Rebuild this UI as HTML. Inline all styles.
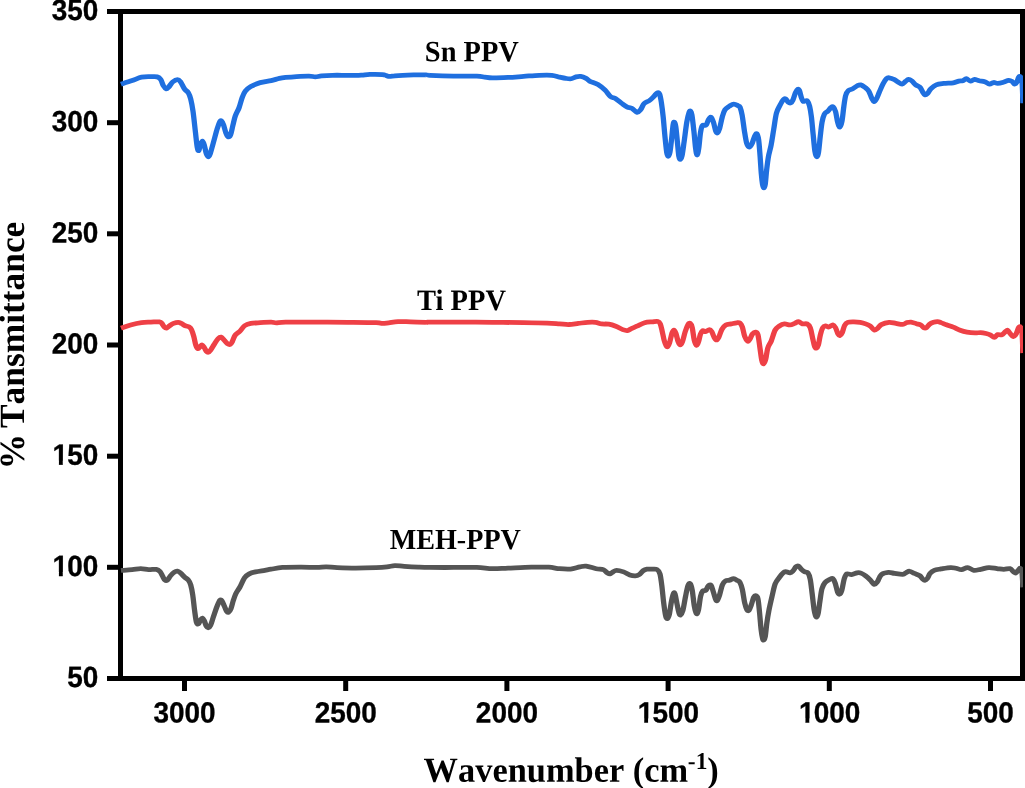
<!DOCTYPE html>
<html><head><meta charset="utf-8"><title>FTIR spectra</title>
<style>
html,body{margin:0;padding:0;background:#fff;}
body{width:1025px;height:788px;overflow:hidden;}
svg{display:block;}
.tk{font-family:"Liberation Sans",Arial,sans-serif;font-weight:bold;font-size:29.3px;fill:#000;stroke:#000;stroke-width:0.35px;}
.lb{font-family:"Liberation Serif","Times New Roman",serif;font-weight:bold;font-size:29px;fill:#000;}
.ax{font-family:"Liberation Serif","Times New Roman",serif;font-weight:bold;font-size:34.7px;fill:#000;font-kerning:none;}
</style></head><body>
<svg width="1025" height="788" viewBox="0 0 1025 788">
<rect width="1025" height="788" fill="#fff"/>
<defs><clipPath id="one"><rect x="-2" y="-30" width="90" height="26.01"/><rect x="7.54" y="-4" width="4.02" height="6"/><rect x="17.15" y="-4" width="72" height="6"/></clipPath><clipPath id="plotclip"><rect x="118" y="9" width="905" height="672"/></clipPath></defs>
<rect x="120.5" y="11.5" width="902" height="667" fill="none" stroke="#000" stroke-width="5"/>
<rect x="107" y="676.0" width="12" height="5" fill="#000"/>
<g transform="translate(67.27,687.10) scale(0.9522,1) rotate(0.03)"><text x="0" y="0" class="tk">50</text></g>
<rect x="107" y="564.8" width="12" height="5" fill="#000"/>
<g transform="translate(51.75,575.93) scale(0.9522,1) rotate(0.03)"><text x="0.70 16.30" y="0" class="tk" clip-path="url(#one)">100</text></g>
<rect x="107" y="453.7" width="12" height="5" fill="#000"/>
<g transform="translate(51.75,464.77) scale(0.9522,1) rotate(0.03)"><text x="0.70 16.30" y="0" class="tk" clip-path="url(#one)">150</text></g>
<rect x="107" y="342.5" width="12" height="5" fill="#000"/>
<g transform="translate(51.75,353.60) scale(0.9522,1) rotate(0.03)"><text x="0" y="0" class="tk">200</text></g>
<rect x="107" y="231.3" width="12" height="5" fill="#000"/>
<g transform="translate(51.75,242.43) scale(0.9522,1) rotate(0.03)"><text x="0" y="0" class="tk">250</text></g>
<rect x="107" y="120.2" width="12" height="5" fill="#000"/>
<g transform="translate(51.75,131.27) scale(0.9522,1) rotate(0.03)"><text x="0" y="0" class="tk">300</text></g>
<rect x="107" y="9.0" width="12" height="5" fill="#000"/>
<g transform="translate(51.75,20.10) scale(0.9522,1) rotate(0.03)"><text x="0" y="0" class="tk">350</text></g>
<rect x="182.0" y="680" width="5" height="11" fill="#000"/>
<g transform="translate(153.47,722.50) scale(0.9522,1) rotate(0.03)"><text x="0" y="0" class="tk">3000</text></g>
<rect x="343.2" y="680" width="5" height="11" fill="#000"/>
<g transform="translate(314.67,722.50) scale(0.9522,1) rotate(0.03)"><text x="0" y="0" class="tk">2500</text></g>
<rect x="504.4" y="680" width="5" height="11" fill="#000"/>
<g transform="translate(475.87,722.50) scale(0.9522,1) rotate(0.03)"><text x="0" y="0" class="tk">2000</text></g>
<rect x="665.6" y="680" width="5" height="11" fill="#000"/>
<g transform="translate(637.07,722.50) scale(0.9522,1) rotate(0.03)"><text x="0.70 16.30" y="0" class="tk" clip-path="url(#one)">1500</text></g>
<rect x="826.8" y="680" width="5" height="11" fill="#000"/>
<g transform="translate(798.27,722.50) scale(0.9522,1) rotate(0.03)"><text x="0.70 16.30" y="0" class="tk" clip-path="url(#one)">1000</text></g>
<rect x="988.0" y="680" width="5" height="11" fill="#000"/>
<g transform="translate(967.23,722.50) scale(0.9522,1) rotate(0.03)"><text x="0" y="0" class="tk">500</text></g>
<g clip-path="url(#plotclip)"><g transform="scale(1,0.9)">
<path d="M120.93 633.83C122.81 633.68 128.87 633.28 132.17 632.96C135.48 632.64 138.03 631.92 140.76 631.92C143.49 631.92 145.96 632.84 148.56 632.96C151.16 633.08 154.47 632.27 156.37 632.61C158.27 632.96 158.92 633.77 159.96 635.04C161.00 636.31 161.78 638.66 162.61 640.25C163.44 641.84 164.17 643.86 164.95 644.58C165.73 645.30 166.38 645.36 167.29 644.58C168.21 643.80 169.30 641.34 170.42 639.90C171.54 638.45 172.84 636.78 174.01 635.91C175.18 635.04 176.35 634.55 177.44 634.69C178.53 634.84 179.39 635.71 180.56 636.78C181.73 637.85 183.17 639.81 184.47 641.11C185.77 642.41 187.33 643.14 188.37 644.58C189.41 646.03 189.98 647.04 190.71 649.78C191.44 652.53 192.09 656.29 192.74 661.06C193.39 665.83 193.99 673.35 194.61 678.40C195.24 683.46 195.84 688.96 196.49 691.41C197.14 693.87 197.84 693.58 198.52 693.15C199.19 692.71 199.89 689.88 200.54 688.81C201.20 687.74 201.79 686.58 202.42 686.73C203.04 686.87 203.64 688.17 204.29 689.68C204.94 691.18 205.64 694.45 206.32 695.75C207.00 697.05 207.65 697.63 208.35 697.48C209.05 697.34 209.65 697.05 210.54 694.88C211.42 692.71 212.54 688.09 213.66 684.47C214.78 680.86 216.21 676.09 217.25 673.20C218.29 670.31 219.12 668.05 219.90 667.13C220.68 666.20 221.20 666.64 221.93 667.65C222.66 668.66 223.49 671.26 224.27 673.20C225.05 675.14 225.89 678.11 226.61 679.27C227.34 680.43 227.94 680.57 228.64 680.14C229.35 679.70 230.05 678.84 230.83 676.67C231.61 674.50 232.47 670.02 233.33 667.13C234.19 664.24 234.89 661.78 235.98 659.32C237.07 656.87 238.45 655.28 239.88 652.39C241.31 649.50 243.00 644.44 244.57 641.98C246.13 639.52 247.43 638.74 249.25 637.64C251.07 636.55 252.89 636.05 255.49 635.39C258.10 634.72 262.26 634.15 264.86 633.65C267.46 633.16 268.17 632.96 271.10 632.44C274.04 631.92 277.47 630.91 282.49 630.54C287.51 630.16 295.50 630.19 301.22 630.19C306.94 630.19 312.67 630.60 316.83 630.54C320.99 630.48 322.82 629.81 326.20 629.84C329.58 629.87 332.18 630.48 337.12 630.71C342.07 630.94 349.35 631.23 355.86 631.23C362.36 631.23 370.95 630.94 376.15 630.71C381.35 630.48 383.96 630.22 387.08 629.84C390.20 629.47 392.02 628.54 394.88 628.46C397.74 628.37 400.35 629.03 404.25 629.32C408.15 629.61 414.01 629.99 418.30 630.19C422.59 630.39 424.15 630.48 430.00 630.54C435.85 630.60 445.61 630.54 453.42 630.54C461.22 630.54 470.33 630.31 476.83 630.54C483.34 630.77 487.24 631.81 492.44 631.92C497.64 632.04 501.55 631.52 508.05 631.23C514.56 630.94 524.70 630.36 531.47 630.19C538.23 630.02 543.96 629.90 548.64 630.19C553.32 630.48 555.92 631.58 559.57 631.92C563.21 632.27 567.11 632.62 570.49 632.27C573.88 631.92 577.26 630.39 579.86 629.84C582.46 629.29 583.37 628.63 586.10 628.98C588.83 629.32 593.38 631.26 596.24 631.92C599.11 632.58 601.45 632.21 603.27 632.96C605.09 633.71 606.05 635.65 607.17 636.43C608.29 637.21 608.99 637.82 609.98 637.64C610.97 637.47 612.01 636.05 613.10 635.39C614.20 634.72 614.79 633.65 616.54 633.65C618.28 633.65 621.35 634.52 623.56 635.39C625.77 636.26 627.86 638.11 629.81 638.86C631.76 639.61 633.71 639.96 635.27 639.90C636.83 639.84 637.87 639.46 639.17 638.51C640.47 637.56 641.77 635.19 643.08 634.17C644.38 633.16 645.42 632.73 646.98 632.44C648.54 632.15 650.75 632.35 652.44 632.44C654.13 632.53 655.88 632.09 657.12 632.96C658.37 633.83 659.15 634.69 659.93 637.64C660.71 640.59 661.18 645.30 661.81 650.65C662.43 656.00 663.06 664.24 663.68 669.73C664.31 675.22 664.96 680.66 665.55 683.61C666.15 686.56 666.65 687.57 667.27 687.42C667.90 687.28 668.60 685.98 669.30 682.74C670.00 679.50 670.78 671.90 671.49 668.00C672.19 664.09 672.92 660.63 673.52 659.32C674.11 658.02 674.48 658.17 675.08 660.19C675.67 662.22 676.46 668.00 677.11 671.47C677.76 674.93 678.41 679.04 678.98 681.01C679.55 682.97 679.89 683.69 680.54 683.26C681.19 682.83 682.05 681.82 682.88 678.40C683.71 674.99 684.68 667.42 685.54 662.79C686.39 658.17 687.25 653.02 688.03 650.65C688.81 648.28 689.52 647.70 690.22 648.57C690.92 649.44 691.57 651.75 692.25 655.86C692.92 659.96 693.57 668.86 694.28 673.20C694.98 677.54 695.76 681.15 696.46 681.87C697.17 682.60 697.82 680.72 698.49 677.54C699.17 674.36 699.82 666.26 700.52 662.79C701.22 659.32 701.82 657.88 702.71 656.72C703.59 655.57 704.89 656.81 705.83 655.86C706.77 654.90 707.47 651.92 708.33 651.00C709.19 650.07 710.15 649.21 710.98 650.31C711.81 651.40 712.54 654.99 713.32 657.59C714.10 660.19 715.01 664.33 715.66 665.92C716.31 667.51 716.57 667.94 717.22 667.13C717.87 666.32 718.71 663.95 719.57 661.06C720.42 658.17 721.39 652.39 722.38 649.78C723.36 647.18 724.28 646.32 725.50 645.45C726.72 644.58 728.36 645.02 729.71 644.58C731.07 644.15 732.31 642.76 733.62 642.85C734.92 642.93 736.45 644.38 737.52 645.10C738.58 645.82 739.20 645.54 740.00 647.18C740.80 648.83 741.56 651.23 742.34 654.99C743.12 658.75 743.90 665.97 744.68 669.73C745.46 673.49 746.30 676.15 747.02 677.54C747.75 678.92 748.35 678.92 749.05 678.06C749.76 677.19 750.46 674.73 751.24 672.33C752.02 669.93 752.96 665.40 753.74 663.66C754.52 661.93 755.22 661.64 755.92 661.93C756.63 662.22 757.35 662.36 757.95 665.40C758.55 668.43 758.99 674.50 759.51 680.14C760.03 685.78 760.55 694.30 761.07 699.22C761.59 704.13 762.17 707.66 762.64 709.62C763.10 711.59 763.44 711.45 763.88 711.01C764.33 710.58 764.79 710.15 765.29 707.02C765.78 703.90 766.25 697.05 766.85 692.28C767.45 687.51 768.02 683.32 768.88 678.40C769.74 673.49 770.96 667.71 772.00 662.79C773.04 657.88 773.95 652.39 775.12 648.92C776.29 645.45 777.46 644.23 779.03 641.98C780.59 639.72 782.67 636.31 784.49 635.39C786.31 634.46 788.52 636.63 789.95 636.43C791.38 636.23 792.09 635.27 793.08 634.17C794.06 633.08 794.97 630.71 795.89 629.84C796.80 628.97 797.58 628.45 798.54 628.97C799.50 629.49 800.62 631.89 801.66 632.96C802.70 634.03 803.74 634.81 804.78 635.39C805.82 635.97 806.99 635.04 807.91 636.43C808.82 637.82 809.54 639.90 810.25 643.71C810.95 647.53 811.47 653.69 812.12 659.32C812.77 664.96 813.47 673.20 814.15 677.54C814.83 681.87 815.53 684.62 816.18 685.34C816.83 686.06 817.43 684.76 818.05 681.87C818.68 678.98 819.27 672.62 819.93 668.00C820.58 663.37 821.10 657.59 821.95 654.12C822.81 650.65 823.78 648.92 825.08 647.18C826.38 645.45 828.46 644.44 829.76 643.71C831.06 642.99 831.97 642.12 832.88 642.85C833.79 643.57 834.44 645.59 835.22 648.05C836.00 650.51 836.84 655.57 837.56 657.59C838.29 659.61 838.89 660.48 839.59 660.19C840.30 659.90 841.00 658.75 841.78 655.86C842.56 652.96 843.42 645.88 844.28 642.85C845.14 639.81 845.71 638.37 846.93 637.64C848.15 636.92 849.92 638.71 851.61 638.51C853.31 638.31 855.52 636.72 857.08 636.43C858.64 636.14 859.55 636.20 860.98 636.78C862.41 637.35 864.10 638.60 865.66 639.90C867.22 641.20 868.92 643.02 870.35 644.58C871.78 646.14 873.08 648.98 874.25 649.26C875.42 649.55 876.20 648.11 877.37 646.32C878.54 644.52 879.43 640.24 881.27 638.51C883.11 636.78 886.20 636.16 888.41 635.94C890.63 635.71 892.17 636.77 894.56 637.15C896.95 637.53 900.82 638.37 902.76 638.21C904.69 638.06 905.03 636.82 906.17 636.24C907.31 635.66 908.22 634.57 909.59 634.72C910.95 634.88 912.66 636.32 914.37 637.15C916.07 637.99 918.47 638.72 919.83 639.73C921.20 640.74 921.72 642.39 922.56 643.22C923.41 644.06 924.09 644.82 924.89 644.74C925.68 644.66 926.48 644.03 927.34 642.77C928.21 641.50 928.94 638.67 930.08 637.15C931.21 635.63 932.35 634.50 934.17 633.66C935.99 632.83 938.27 632.65 941.00 632.14C943.74 631.64 948.06 630.75 950.56 630.63C953.07 630.50 954.21 631.01 956.03 631.38C957.85 631.76 959.56 633.03 961.49 632.90C963.43 632.78 965.59 630.50 967.64 630.63C969.69 630.75 971.62 633.33 973.79 633.66C975.95 633.99 978.11 633.10 980.62 632.60C983.12 632.09 986.08 630.78 988.81 630.63C991.54 630.47 994.50 631.36 997.01 631.69C999.51 632.02 1001.67 632.57 1003.84 632.60C1006.00 632.62 1008.39 631.41 1009.98 631.84C1011.58 632.27 1012.42 634.37 1013.40 635.18C1014.38 635.99 1015.06 636.95 1015.86 636.70C1016.65 636.44 1017.45 634.55 1018.18 633.66C1018.91 632.78 1019.59 631.01 1020.23 631.38C1020.86 631.76 1021.55 632.40 1022.00 635.94C1022.46 639.48 1022.80 649.85 1022.96 652.63" fill="none" stroke="#555555" stroke-width="5.3" stroke-linejoin="round" stroke-linecap="butt"/>
<path d="M120.93 364.55C122.55 363.98 127.18 362.10 130.61 361.09C134.04 360.07 138.16 359.00 141.54 358.48C144.92 357.96 147.91 358.11 150.90 357.96C153.90 357.82 157.67 357.38 159.49 357.62C161.31 357.85 161.05 358.43 161.83 359.35C162.61 360.28 163.39 362.30 164.17 363.17C164.95 364.03 165.60 364.76 166.51 364.55C167.42 364.35 168.47 362.82 169.64 361.95C170.81 361.09 172.11 359.99 173.54 359.35C174.97 358.71 176.92 358.14 178.22 358.14C179.52 358.14 180.17 358.71 181.34 359.35C182.51 359.99 183.95 361.32 185.25 361.95C186.55 362.59 188.11 362.44 189.15 363.17C190.19 363.89 190.71 364.47 191.49 366.29C192.27 368.11 193.10 371.20 193.83 374.09C194.56 376.98 195.16 381.41 195.86 383.63C196.56 385.86 197.34 387.22 198.05 387.45C198.75 387.68 199.40 385.71 200.08 385.02C200.75 384.33 201.40 383.08 202.11 383.29C202.81 383.49 203.59 385.08 204.29 386.24C204.99 387.39 205.64 389.36 206.32 390.22C207.00 391.09 207.65 391.61 208.35 391.44C209.05 391.27 209.57 390.63 210.54 389.18C211.50 387.74 212.88 384.91 214.13 382.77C215.37 380.63 216.86 377.71 218.03 376.35C219.20 374.99 220.11 374.32 221.15 374.61C222.19 374.90 223.23 376.87 224.27 378.08C225.31 379.30 226.41 381.12 227.39 381.90C228.38 382.68 229.37 383.20 230.20 382.77C231.04 382.33 231.56 381.03 232.39 379.30C233.22 377.56 233.95 374.24 235.20 372.36C236.45 370.48 238.32 369.76 239.88 368.02C241.44 366.29 242.74 363.40 244.57 361.95C246.39 360.51 248.21 359.93 250.81 359.35C253.41 358.77 256.79 358.71 260.18 358.48C263.56 358.25 268.43 357.93 271.10 357.96C273.78 357.99 273.83 358.66 276.24 358.66C278.66 358.66 278.85 358.08 285.61 357.96C292.37 357.85 306.42 357.93 316.83 357.96C327.24 357.99 338.17 358.05 348.05 358.14C357.94 358.22 370.43 358.28 376.15 358.48C381.87 358.69 380.31 359.32 382.39 359.35C384.48 359.38 386.04 359.00 388.64 358.66C391.24 358.31 394.36 357.44 398.00 357.27C401.65 357.10 405.81 357.47 410.49 357.62C415.18 357.76 422.85 358.08 426.10 358.14C429.35 358.19 424.15 358.02 430.00 357.96C435.85 357.91 450.81 357.76 461.22 357.79C471.63 357.82 482.03 358.02 492.44 358.14C502.85 358.25 514.56 358.34 523.66 358.48C532.77 358.63 541.09 358.77 547.08 359.00C553.06 359.23 555.92 359.61 559.57 359.87C563.21 360.13 565.81 360.65 568.93 360.56C572.05 360.48 575.18 359.76 578.30 359.35C581.42 358.95 584.80 358.34 587.66 358.14C590.53 357.93 593.12 357.84 595.46 358.13C597.80 358.42 599.50 359.52 601.71 359.87C603.92 360.21 606.39 359.78 608.73 360.21C611.07 360.65 613.42 361.46 615.76 362.47C618.10 363.48 620.83 365.47 622.78 366.28C624.73 367.09 626.03 367.53 627.46 367.32C628.90 367.12 629.81 365.88 631.37 365.07C632.93 364.26 634.62 363.54 636.83 362.47C639.04 361.40 642.03 359.46 644.64 358.65C647.24 357.84 650.23 357.84 652.44 357.61C654.65 357.38 656.60 356.89 657.91 357.26C659.21 357.64 659.54 358.13 660.25 359.87C660.95 361.60 661.47 364.64 662.12 367.67C662.77 370.71 663.47 375.33 664.15 378.08C664.83 380.82 665.58 382.99 666.18 384.15C666.78 385.30 667.17 385.59 667.74 385.02C668.31 384.44 668.91 383.14 669.61 380.68C670.32 378.22 671.23 372.59 671.95 370.27C672.68 367.96 673.33 366.80 673.98 366.80C674.63 366.80 675.15 368.10 675.86 370.27C676.56 372.44 677.47 377.64 678.20 379.81C678.93 381.98 679.53 383.28 680.23 383.28C680.93 383.28 681.58 382.27 682.41 379.81C683.25 377.36 684.29 371.72 685.22 368.54C686.16 365.36 687.20 362.27 688.03 360.73C688.87 359.20 689.52 358.77 690.22 359.35C690.92 359.92 691.57 361.08 692.25 364.20C692.92 367.32 693.57 374.84 694.28 378.08C694.98 381.32 695.76 383.34 696.46 383.63C697.17 383.92 697.82 381.89 698.49 379.81C699.17 377.73 699.82 373.22 700.52 371.14C701.22 369.06 701.87 367.76 702.71 367.32C703.54 366.89 704.40 368.71 705.52 368.54C706.64 368.36 708.38 366.28 709.42 366.28C710.46 366.28 710.98 367.15 711.76 368.54C712.54 369.93 713.32 373.08 714.10 374.61C714.88 376.14 715.66 377.73 716.44 377.73C717.22 377.73 717.87 376.57 718.79 374.61C719.70 372.64 720.74 368.19 721.91 365.94C723.08 363.68 724.25 362.09 725.81 361.08C727.37 360.07 729.45 360.27 731.27 359.87C733.10 359.46 735.28 358.80 736.74 358.65C738.19 358.51 739.07 358.22 740.00 359.00C740.93 359.78 741.56 360.88 742.34 363.33C743.12 365.79 743.82 371.14 744.68 373.74C745.54 376.34 746.66 378.37 747.49 378.95C748.33 379.52 748.85 378.51 749.68 377.21C750.51 375.91 751.50 372.50 752.49 371.14C753.48 369.78 754.70 368.91 755.61 369.06C756.52 369.20 757.22 369.06 757.95 372.01C758.68 374.96 759.33 381.98 759.98 386.75C760.63 391.52 761.23 397.74 761.85 400.63C762.48 403.52 763.08 404.38 763.73 404.10C764.38 403.81 765.08 401.78 765.76 398.89C766.43 396.00 766.88 390.07 767.79 386.75C768.70 383.43 770.00 382.27 771.22 378.95C772.44 375.62 773.82 369.55 775.12 366.80C776.42 364.06 777.46 363.62 779.03 362.47C780.59 361.31 782.67 360.10 784.49 359.87C786.31 359.63 788.26 361.17 789.95 361.08C791.64 360.99 793.21 359.98 794.64 359.35C796.07 358.71 797.24 357.18 798.54 357.26C799.84 357.35 801.01 359.43 802.44 359.87C803.87 360.30 805.82 359.14 807.12 359.87C808.43 360.59 809.34 361.60 810.25 364.20C811.16 366.80 811.86 372.01 812.59 375.48C813.32 378.95 813.97 383.14 814.62 385.02C815.27 386.89 815.87 387.04 816.49 386.75C817.12 386.46 817.71 385.74 818.36 383.28C819.01 380.82 819.66 375.19 820.39 372.01C821.12 368.83 821.88 365.85 822.73 364.20C823.59 362.55 824.50 362.27 825.54 362.12C826.59 361.98 827.76 363.51 828.98 363.33C830.20 363.16 831.79 360.94 832.88 361.08C833.97 361.22 834.68 362.53 835.54 364.20C836.39 365.88 837.30 369.69 838.03 371.14C838.76 372.59 839.20 373.16 839.91 372.87C840.61 372.59 841.47 371.28 842.25 369.41C843.03 367.53 843.68 363.48 844.59 361.60C845.50 359.72 846.15 358.80 847.71 358.13C849.27 357.47 851.87 357.61 853.96 357.61C856.04 357.61 858.25 357.76 860.20 358.13C862.15 358.51 863.97 359.14 865.66 359.87C867.35 360.59 868.92 361.31 870.35 362.47C871.78 363.62 873.08 366.37 874.25 366.80C875.42 367.24 876.20 366.08 877.37 365.07C878.54 364.06 879.32 361.89 881.27 360.73C883.23 359.58 886.66 358.36 889.10 358.13C891.54 357.90 893.65 358.97 895.93 359.35C898.20 359.73 900.94 360.56 902.76 360.41C904.58 360.26 905.49 358.87 906.85 358.44C908.22 358.01 909.36 357.63 910.95 357.83C912.55 358.03 914.78 359.09 916.42 359.65C918.06 360.21 919.54 360.41 920.79 361.17C922.04 361.93 922.95 363.75 923.93 364.20C924.91 364.66 925.75 364.53 926.66 363.90C927.57 363.27 928.25 361.37 929.39 360.41C930.53 359.45 932.12 358.64 933.49 358.13C934.86 357.63 936.34 357.32 937.59 357.37C938.84 357.42 939.52 357.85 941.00 358.44C942.48 359.02 944.42 360.03 946.47 360.86C948.52 361.70 951.02 362.43 953.30 363.44C955.57 364.46 957.85 366.00 960.13 366.93C962.40 367.87 964.45 368.55 966.96 369.06C969.46 369.57 972.88 369.89 975.15 369.97C977.43 370.05 978.79 369.41 980.62 369.51C982.44 369.62 984.49 370.15 986.08 370.58C987.67 371.01 988.81 371.39 990.18 372.09C991.54 372.80 993.02 374.88 994.27 374.83C995.53 374.78 996.44 372.25 997.69 371.79C998.94 371.34 1000.54 372.60 1001.79 372.09C1003.04 371.59 1004.22 369.62 1005.20 368.76C1006.18 367.90 1006.86 366.68 1007.66 366.93C1008.46 367.19 1009.03 369.08 1009.98 370.27C1010.94 371.46 1012.37 373.94 1013.40 374.07C1014.42 374.19 1015.26 372.68 1016.13 371.03C1016.99 369.39 1017.86 365.47 1018.59 364.20C1019.32 362.94 1019.93 362.68 1020.50 363.44C1021.07 364.20 1021.59 363.95 1022.00 368.76C1022.41 373.56 1022.80 388.36 1022.96 392.28" fill="none" stroke="#ee4046" stroke-width="5.3" stroke-linejoin="round" stroke-linecap="butt"/>
<path d="M120.93 93.55C122.81 92.89 128.74 90.86 132.17 89.56C135.61 88.26 138.42 86.47 141.54 85.75C144.66 85.02 148.30 85.28 150.90 85.23C153.51 85.17 155.51 84.88 157.15 85.40C158.79 85.92 159.70 86.70 160.74 88.35C161.78 90.00 162.48 93.55 163.39 95.29C164.30 97.02 165.29 98.55 166.20 98.75C167.11 98.96 167.76 97.80 168.86 96.50C169.95 95.20 171.33 92.31 172.76 90.95C174.19 89.59 176.14 88.35 177.44 88.35C178.74 88.35 179.39 89.21 180.56 90.95C181.73 92.68 183.17 96.73 184.47 98.75C185.77 100.78 187.33 101.21 188.37 103.09C189.41 104.97 189.93 106.56 190.71 110.03C191.49 113.50 192.27 117.83 193.05 123.90C193.83 129.98 194.69 139.80 195.39 146.45C196.10 153.10 196.69 160.33 197.27 163.80C197.84 167.27 198.28 167.84 198.83 167.27C199.37 166.69 199.95 162.06 200.54 160.33C201.14 158.59 201.79 156.72 202.42 156.86C203.04 157.00 203.64 158.88 204.29 161.20C204.94 163.51 205.67 168.57 206.32 170.74C206.97 172.90 207.54 174.20 208.19 174.20C208.84 174.20 209.36 173.34 210.22 170.74C211.08 168.13 212.17 163.22 213.35 158.59C214.52 153.97 216.16 146.89 217.25 142.98C218.34 139.08 219.20 136.62 219.90 135.18C220.60 133.73 220.86 133.73 221.46 134.31C222.06 134.89 222.76 136.48 223.49 138.65C224.22 140.82 225.05 145.09 225.83 147.32C226.61 149.55 227.39 151.57 228.18 152.00C228.96 152.44 229.74 152.00 230.52 149.92C231.30 147.84 232.08 142.98 232.86 139.52C233.64 136.05 234.16 132.43 235.20 129.11C236.24 125.78 237.93 123.04 239.10 119.57C240.27 116.10 241.18 111.33 242.22 108.29C243.27 105.26 243.92 103.38 245.35 101.36C246.78 99.33 248.34 97.74 250.81 96.15C253.28 94.56 256.79 92.92 260.18 91.82C263.56 90.72 267.91 90.34 271.10 89.56C274.30 88.78 276.95 87.71 279.37 87.13C281.78 86.56 282.75 86.44 285.61 86.09C288.47 85.75 292.64 85.31 296.54 85.05C300.44 84.79 305.90 84.47 309.03 84.53C312.15 84.59 313.19 85.43 315.27 85.40C317.35 85.37 318.65 84.65 321.51 84.36C324.38 84.07 328.54 83.78 332.44 83.66C336.34 83.55 341.03 83.64 344.93 83.66C348.83 83.69 353.00 83.87 355.86 83.84C358.72 83.81 359.76 83.69 362.10 83.49C364.44 83.29 366.52 82.74 369.91 82.62C373.29 82.51 379.66 82.57 382.39 82.80C385.13 83.03 385.13 83.66 386.30 84.01C387.47 84.36 387.99 84.85 389.42 84.88C390.85 84.91 392.67 84.39 394.88 84.18C397.09 83.98 399.57 83.81 402.69 83.66C405.81 83.52 409.71 83.40 413.62 83.32C417.52 83.23 423.37 83.09 426.10 83.14C428.83 83.20 425.45 83.43 430.00 83.66C434.55 83.90 445.61 84.39 453.42 84.53C461.22 84.68 471.63 84.33 476.83 84.53C482.03 84.73 482.03 85.40 484.64 85.75C487.24 86.09 488.54 86.56 492.44 86.61C496.34 86.67 502.85 86.38 508.05 86.09C513.26 85.80 518.46 85.28 523.66 84.88C528.87 84.47 534.59 83.87 539.27 83.66C543.96 83.46 548.38 83.32 551.76 83.66C555.14 84.01 557.22 85.17 559.57 85.75C561.91 86.32 563.86 86.84 565.81 87.13C567.76 87.42 569.58 87.77 571.27 87.48C572.96 87.19 574.40 85.83 575.96 85.40C577.52 84.97 578.95 84.59 580.64 84.88C582.33 85.17 584.54 86.22 586.10 87.13C587.66 88.04 588.02 89.22 590.00 90.35C591.98 91.47 595.48 92.25 597.99 93.90C600.51 95.54 603.02 98.01 605.10 100.21C607.17 102.41 608.65 105.54 610.42 107.12C612.20 108.70 613.83 108.37 615.75 109.68C617.67 111.00 620.04 113.46 621.97 115.01C623.89 116.56 625.67 118.07 627.29 118.96C628.92 119.84 630.11 119.35 631.73 120.34C633.36 121.32 635.58 124.61 637.06 124.88C638.54 125.14 639.43 123.56 640.61 121.92C641.80 120.27 642.68 116.72 644.16 115.01C645.64 113.30 647.86 112.97 649.49 111.66C651.12 110.34 652.66 108.53 653.93 107.12C655.20 105.70 656.18 103.60 657.13 103.17C658.08 102.74 658.90 102.74 659.61 104.55C660.32 106.36 660.80 109.81 661.39 114.02C661.98 118.23 662.57 123.56 663.17 129.81C663.76 136.06 664.35 144.94 664.94 151.51C665.53 158.09 666.19 165.59 666.72 169.27C667.25 172.96 667.61 173.61 668.14 173.61C668.67 173.61 669.32 172.63 669.91 169.27C670.51 165.92 671.16 158.59 671.69 153.49C672.22 148.39 672.67 141.65 673.11 138.69C673.56 135.73 673.91 135.40 674.35 135.73C674.80 136.06 675.27 137.04 675.78 140.66C676.28 144.28 676.87 152.01 677.37 157.43C677.88 162.86 678.32 169.93 678.79 173.22C679.27 176.51 679.68 177.17 680.21 177.17C680.75 177.17 681.34 176.51 681.99 173.22C682.64 169.93 683.32 163.68 684.12 157.43C684.92 151.19 685.96 141.16 686.79 135.73C687.61 130.30 688.47 126.92 689.09 124.88C689.72 122.84 690.04 123.00 690.52 123.49C690.99 123.99 691.37 124.15 691.94 127.84C692.50 131.52 693.27 139.35 693.89 145.59C694.51 151.84 695.13 160.89 695.67 165.33C696.20 169.77 696.58 172.23 697.09 172.23C697.59 172.23 698.12 169.44 698.68 165.33C699.25 161.22 699.87 151.84 700.46 147.57C701.05 143.29 701.56 141.06 702.24 139.68C702.92 138.29 703.86 139.45 704.54 139.28C705.23 139.12 705.64 139.77 706.32 138.69C707.00 137.60 707.83 134.18 708.63 132.77C709.43 131.35 710.32 129.71 711.12 130.20C711.91 130.70 712.65 133.16 713.42 135.73C714.19 138.29 715.05 143.62 715.73 145.59C716.41 147.57 716.86 148.06 717.51 147.57C718.16 147.07 718.84 145.59 719.64 142.64C720.44 139.68 721.42 133.26 722.30 129.81C723.19 126.36 723.78 123.89 724.97 121.92C726.15 119.94 727.93 119.02 729.41 117.97C730.89 116.92 732.37 115.67 733.85 115.60C735.33 115.54 737.26 117.02 738.29 117.58C739.31 118.13 739.36 117.25 740.00 118.96C740.64 120.67 741.39 123.40 742.13 127.84C742.87 132.28 743.67 140.33 744.44 145.59C745.21 150.86 745.95 156.45 746.75 159.41C747.55 162.37 748.35 163.35 749.23 163.35C750.12 163.35 751.19 161.38 752.08 159.41C752.96 157.43 753.76 153.32 754.56 151.51C755.36 149.71 756.19 147.90 756.87 148.55C757.55 149.21 758.11 151.35 758.65 155.46C759.18 159.57 759.62 166.97 760.07 173.22C760.51 179.47 760.90 187.69 761.31 192.95C761.72 198.21 762.14 202.16 762.55 204.79C762.97 207.42 763.35 208.74 763.80 208.74C764.24 208.74 764.74 208.08 765.22 204.79C765.69 201.50 766.11 194.10 766.64 189.01C767.17 183.91 767.67 178.81 768.41 174.21C769.15 169.60 770.19 166.48 771.08 161.38C771.97 156.28 772.85 149.54 773.74 143.62C774.63 137.70 775.37 130.30 776.41 125.86C777.44 121.42 778.77 119.55 779.96 116.98C781.14 114.42 782.53 111.62 783.51 110.47C784.49 109.32 785.02 109.55 785.82 110.08C786.62 110.60 787.50 112.91 788.30 113.63C789.10 114.35 789.84 114.85 790.61 114.42C791.38 113.99 792.12 112.94 792.92 111.06C793.72 109.19 794.61 105.14 795.41 103.17C796.21 101.20 797.04 99.65 797.72 99.22C798.40 98.80 798.90 99.13 799.49 100.61C800.08 102.09 800.68 106.13 801.27 108.10C801.86 110.08 802.36 111.79 803.04 112.44C803.72 113.10 804.61 112.05 805.35 112.05C806.09 112.05 806.77 111.46 807.48 112.44C808.19 113.43 808.96 115.08 809.61 117.97C810.27 120.86 810.80 124.55 811.39 129.81C811.98 135.07 812.57 143.13 813.17 149.54C813.76 155.95 814.35 164.18 814.94 168.29C815.53 172.40 816.13 174.04 816.72 174.21C817.31 174.37 817.90 173.06 818.49 169.27C819.09 165.49 819.68 157.11 820.27 151.51C820.86 145.92 821.37 139.84 822.05 135.73C822.73 131.62 823.38 128.89 824.35 126.85C825.33 124.81 826.81 124.71 827.91 123.49C829.00 122.28 830.04 120.30 830.93 119.55C831.81 118.79 832.46 118.23 833.23 118.96C834.00 119.68 834.80 121.09 835.54 123.89C836.28 126.68 836.96 132.83 837.67 135.73C838.38 138.62 839.09 141.42 839.80 141.25C840.52 141.09 841.25 138.62 841.94 134.74C842.62 130.86 843.27 122.74 843.89 117.97C844.51 113.20 844.93 109.02 845.67 106.13C846.41 103.24 847.14 101.86 848.33 100.61C849.51 99.36 851.29 99.52 852.77 98.63C854.25 97.74 855.88 96.00 857.21 95.28C858.54 94.55 859.43 93.96 860.76 94.29C862.09 94.62 863.87 96.10 865.20 97.25C866.53 98.40 867.66 99.22 868.75 101.20C869.85 103.17 870.88 107.12 871.77 109.09C872.66 111.06 873.31 112.87 874.08 113.04C874.85 113.20 875.50 111.89 876.39 110.08C877.28 108.27 878.31 104.98 879.41 102.18C880.50 99.39 881.77 95.77 882.96 93.30C884.14 90.84 885.47 88.54 886.51 87.39C887.55 86.23 887.84 86.23 889.17 86.40C890.51 86.56 893.03 87.57 894.50 88.37C895.97 89.18 896.71 90.37 897.98 91.22C899.24 92.08 900.82 93.62 902.07 93.50C903.33 93.37 904.42 91.35 905.49 90.46C906.56 89.58 907.47 88.31 908.49 88.19C909.52 88.06 910.43 88.69 911.64 89.70C912.84 90.72 914.37 93.07 915.73 94.26C917.10 95.45 918.69 95.57 919.83 96.84C920.97 98.10 921.72 100.43 922.56 101.85C923.41 103.26 924.09 104.96 924.89 105.34C925.68 105.72 926.37 105.21 927.34 104.12C928.32 103.03 929.28 100.45 930.76 98.81C932.24 97.17 934.06 95.27 936.22 94.26C938.39 93.25 940.89 93.12 943.74 92.74C946.58 92.36 950.79 92.41 953.30 91.98C955.80 91.55 957.17 90.54 958.76 90.16C960.35 89.78 961.61 90.16 962.86 89.70C964.11 89.25 965.02 87.35 966.27 87.43C967.53 87.50 969.00 90.03 970.37 90.16C971.74 90.29 972.99 88.26 974.47 88.19C975.95 88.11 977.54 89.27 979.25 89.70C980.96 90.13 983.01 90.13 984.71 90.77C986.42 91.40 988.01 93.35 989.49 93.50C990.97 93.65 992.23 91.80 993.59 91.68C994.96 91.55 995.98 92.82 997.69 92.74C999.40 92.66 1002.01 91.80 1003.84 91.22C1005.66 90.64 1007.25 89.38 1008.62 89.25C1009.98 89.12 1011.05 89.75 1012.03 90.46C1013.01 91.17 1013.69 93.37 1014.49 93.50C1015.29 93.62 1016.13 92.49 1016.81 91.22C1017.50 89.96 1018.02 86.92 1018.59 85.91C1019.16 84.90 1019.66 84.52 1020.23 85.15C1020.80 85.78 1021.55 84.77 1022.00 89.70C1022.46 94.64 1022.80 110.57 1022.96 114.75" fill="none" stroke="#1f6fdf" stroke-width="5.3" stroke-linejoin="round" stroke-linecap="butt"/>
</g></g>

<text transform="translate(471.8,61.3) scale(1,1.04) rotate(0.03)" text-anchor="middle" class="lb" style="font-size:28.4px">Sn PPV</text>
<text transform="translate(461.5,310.1) scale(1,1.04) rotate(0.03)" text-anchor="middle" class="lb" style="font-size:28.5px">Ti PPV</text>
<text transform="translate(455.3,549) scale(1,1.04) rotate(0.03)" text-anchor="middle" class="lb" style="font-size:28.1px">MEH-PPV</text>
<text transform="translate(423.6,781.7) scale(1,1.027) rotate(0.03)" class="ax" style="font-size:34.4px">Wavenumber (cm<tspan dx="-0.3" dy="-12.5" font-size="23.5">-1</tspan><tspan dx="-0.3" dy="12.5">)</tspan></text>
<text transform="translate(24,345.5) rotate(-90.03)" text-anchor="middle" class="ax" style="font-size:35.4px;word-spacing:-3px">% Tansmittance</text>

</svg>
</body></html>
